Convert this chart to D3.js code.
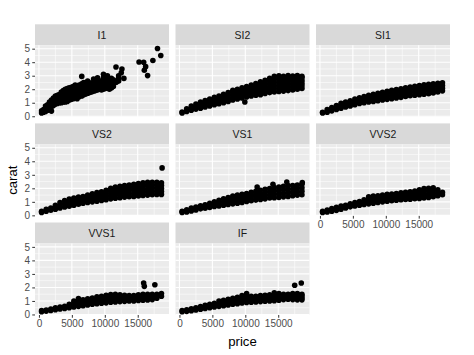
<!DOCTYPE html>
<html>
<head>
<meta charset="utf-8">
<script src="https://cdn.jsdelivr.net/npm/d3@7"></script>
<style>
body { margin: 0; background: #fff; }
text { font-family: "Liberation Sans", Arial, sans-serif; }
</style>
</head>
<body>
<script>
// facet order (clarity)
const clarities = ['I1', 'SI2', 'SI1', 'VS2', 'VS1', 'VVS2', 'VVS1', 'IF'];

// each row: price, then the carat values seen at that price
const rowsI1 = [
  [400,0.25,0.4],[700,0.3,0.5],[1000,0.35,0.55,0.75],[1300,0.45,0.65,0.85],[1600,0.5,0.7,0.9,1.05],
  [1900,0.38,0.7,0.9,1.1,1.2],[2200,0.8,1.0,1.2,1.35],[2500,0.9,1.1,1.3,1.5],[2800,0.95,1.15,1.35,1.55],
  [3100,1.0,1.2,1.4,1.6],[3400,1.0,1.2,1.4,1.6,1.8],[3700,1.05,1.25,1.45,1.65,1.9],
  [4000,1.05,1.3,1.5,1.75,2.0],[4300,1.1,1.35,1.6,1.8,2.05],[4600,1.2,1.4,1.65,1.9,2.1],
  [4900,1.25,1.5,1.7,1.95,2.15],[5200,1.3,1.55,1.8,2.0,2.2],[5500,1.4,1.6,1.85,2.05,2.3],
  [5800,1.3,1.55,1.8,2.0,2.2],[6100,1.45,1.7,1.9,2.1,2.3],[6500,1.5,1.75,2.0,2.2,2.4,2.95],
  [6800,1.6,1.85,2.05,2.25,2.5],[7100,1.65,1.9,2.1,2.3],[7400,1.7,1.95,2.15,2.35,2.6],
  [7700,1.75,2.0,2.2,2.45],[8000,1.8,2.05,2.25,2.45],[8300,1.85,2.1,2.3,2.5,2.75],
  [8600,1.9,2.1,2.3,2.5],[8900,1.95,2.15,2.35,2.6,2.85],[9200,2.0,2.2,2.4,2.6],[9500,1.95,2.2,2.4,2.6],
  [9800,2.0,2.25,2.45,2.65,2.85,3.1],[10100,2.05,2.3,2.5,2.7,2.95],[10400,2.1,2.3,2.5,2.7,3.0],
  [10700,2.0,2.25,2.5,2.7],[11000,2.1,2.3,2.55,2.8],[11300,2.2,2.45,2.7],[11700,2.5,3.65],
  [12100,2.6,2.8,3.0],[12500,3.22],[12600,3.5],[12900,2.8],
  [15200,4.01],[15900,4.0],[16000,3.4],[16200,3.67],[16500,3.01],[17300,4.13],[18000,5.01],[18500,4.5]
];
const rowsSI2 = [
  [400,0.25,0.32],[1100,0.35,0.55],[1800,0.45,0.62,0.75],[2500,0.53,0.72,0.9],[3200,0.6,0.82,1.05],
  [3900,0.68,0.9,1.05,1.17],[4600,0.76,0.95,1.12,1.28],[5300,0.85,1.03,1.22,1.4],
  [6000,0.93,1.12,1.31,1.5],[6700,1.0,1.2,1.4,1.62],[7400,1.1,1.32,1.54,1.76],
  [8100,1.2,1.4,1.6,1.78,1.92],[8800,1.28,1.46,1.64,1.82,2.0],[9500,1.35,1.54,1.73,1.92,2.1],
  [9930,1.05],[10200,1.43,1.62,1.81,2.0,2.2],[10900,1.5,1.7,1.9,2.1,2.3],
  [11600,1.55,1.77,1.98,2.2,2.42],[12300,1.6,1.8,2.0,2.2,2.38,2.55],
  [13000,1.68,1.88,2.08,2.28,2.47,2.66],[13700,1.75,1.96,2.17,2.38,2.59,2.8],
  [14400,1.8,2.03,2.26,2.49,2.72,2.95],[15100,1.83,2.06,2.3,2.53,2.77,3.0],
  [15800,1.86,2.08,2.3,2.52,2.74,2.95],[16500,1.9,2.12,2.35,2.57,2.8,3.02],
  [17200,1.95,2.16,2.37,2.58,2.78,2.98],[17900,2.0,2.2,2.4,2.6,2.8,3.02],
  [18600,2.05,2.25,2.45,2.65,2.85,2.95]
];
const rowsSI1 = [
  [400,0.25,0.3],[1100,0.3,0.5],[1800,0.4,0.52,0.65],[2500,0.5,0.65,0.8],[3200,0.6,0.78,0.95],
  [3900,0.68,0.87,1.05],[4600,0.76,0.96,1.15],[5300,0.86,1.06,1.27],[6000,0.95,1.16,1.37],
  [6700,1.0,1.23,1.46],[7400,1.05,1.22,1.38,1.55],[8100,1.1,1.28,1.45,1.63],
  [8800,1.15,1.33,1.52,1.7],[9500,1.2,1.39,1.58,1.77],[10200,1.25,1.45,1.65,1.85],
  [10900,1.3,1.5,1.7,1.92],[11600,1.35,1.56,1.77,1.97],[12300,1.4,1.61,1.82,2.03],
  [13000,1.47,1.68,1.89,2.1],[13700,1.52,1.74,1.95,2.17],[14400,1.55,1.77,2.0,2.22],
  [15100,1.6,1.82,2.05,2.27],[15800,1.63,1.86,2.09,2.32],[16500,1.67,1.9,2.13,2.36],
  [17200,1.72,1.95,2.18,2.4],[17900,1.8,2.02,2.23,2.44],[18600,1.88,2.08,2.28,2.47]
];
const rowsVS2 = [
  [400,0.22,0.3],[1100,0.3,0.45],[1800,0.38,0.55],[2500,0.45,0.6,0.75],[3200,0.55,0.75,0.95],
  [3900,0.62,0.86,1.1],[4600,0.68,0.86,1.03,1.2],[5300,0.75,0.93,1.1,1.28],[6000,0.83,1.0,1.18,1.35],
  [6700,0.9,1.07,1.23,1.4],[7400,0.95,1.13,1.32,1.5],[8100,1.0,1.2,1.4,1.6],
  [8800,1.05,1.26,1.47,1.68],[9500,1.1,1.32,1.53,1.75],[10200,1.15,1.38,1.62,1.85],
  [10900,1.22,1.42,1.61,1.8,2.0],[11600,1.27,1.48,1.68,1.89,2.1],[12300,1.3,1.51,1.72,1.93,2.15],
  [13000,1.35,1.56,1.78,1.99,2.2],[13700,1.38,1.6,1.82,2.03,2.25],[14400,1.4,1.62,1.85,2.07,2.3],
  [15100,1.43,1.66,1.89,2.12,2.35],[15800,1.47,1.7,1.93,2.17,2.4],[16500,1.5,1.74,1.97,2.21,2.45],
  [17200,1.53,1.76,2.0,2.22,2.45],[17900,1.55,1.78,2.0,2.23,2.45],[18600,1.55,1.77,1.98,2.2,2.4],
  [18700,3.51]
];
const rowsVS1 = [
  [400,0.22,0.3],[1100,0.25,0.42],[1800,0.32,0.45,0.55],[2500,0.4,0.52,0.62],[3200,0.48,0.6,0.7],
  [3900,0.53,0.66,0.78],[4600,0.58,0.74,0.9],[5300,0.65,0.82,1.0],[6000,0.7,0.92,1.12],
  [6700,0.75,0.98,1.22],[7400,0.8,1.0,1.16,1.32],[8100,0.85,1.04,1.23,1.42],[8800,0.9,1.1,1.3,1.5],
  [9500,0.95,1.15,1.35,1.55],[10200,1.02,1.22,1.42,1.62],[10900,1.08,1.28,1.49,1.7],
  [11600,1.13,1.35,1.56,1.78],[11800,2.1],[12300,1.17,1.4,1.62,1.85],[13000,1.22,1.45,1.68,1.92],
  [13700,1.28,1.5,1.74,1.98],[14200,2.3],[14400,1.3,1.55,1.8,2.05],[15100,1.33,1.59,1.84,2.1],
  [15800,1.37,1.63,1.89,2.15],[16300,2.47],[16500,1.4,1.67,1.93,2.2],[17200,1.45,1.7,1.95,2.2],
  [17900,1.5,1.75,2.0,2.25],[18600,1.53,1.79,2.04,2.3],[18650,2.42]
];
const rowsVVS2 = [
  [400,0.22,0.3],[1100,0.25,0.4],[1800,0.3,0.4,0.5],[2500,0.37,0.48,0.6],[3200,0.45,0.56,0.68],
  [3900,0.55,0.65,0.75],[4600,0.63,0.74,0.85],[5300,0.7,0.82,0.95],[6000,0.75,0.88,1.02],
  [6700,0.8,0.98,1.15],[7400,0.85,1.03,1.2,1.38],[8100,0.9,1.07,1.25,1.42],[8800,0.95,1.12,1.28,1.45],
  [9500,1.0,1.17,1.33,1.5],[10200,1.05,1.22,1.38,1.55],[10900,1.08,1.25,1.42,1.58],
  [11600,1.12,1.29,1.45,1.62],[12300,1.15,1.32,1.49,1.66],[13000,1.18,1.35,1.53,1.7],
  [13700,1.2,1.38,1.57,1.75],[14400,1.23,1.42,1.61,1.8],[15100,1.25,1.47,1.68,1.9],
  [15800,1.28,1.51,1.75,1.98],[16500,1.32,1.55,1.78,2.0],[17200,1.38,1.6,1.82,2.03],
  [17900,1.45,1.68,1.9],[18600,1.53,1.7]
];
const rowsVVS1 = [
  [400,0.2,0.28],[1100,0.25,0.33],[1800,0.3,0.4],[2500,0.35,0.5],[3200,0.4,0.55],[3900,0.45,0.6],
  [4600,0.5,0.62,0.75],[5300,0.55,0.7,0.85,1.0],[6000,0.6,0.75,0.9,1.05,1.18],[6700,0.65,0.8,0.95,1.08],
  [7400,0.7,0.85,1.0,1.15],[8100,0.75,0.9,1.06,1.22],[8800,0.8,0.97,1.13,1.3],[9500,0.83,1.0,1.18,1.35],
  [10200,0.86,1.04,1.23,1.42],[10900,0.9,1.09,1.28,1.48],[11600,0.92,1.11,1.3,1.5],
  [12300,0.95,1.12,1.28,1.45],[13000,0.97,1.12,1.27,1.42],[13700,1.0,1.13,1.27,1.4],
  [14400,1.0,1.13,1.27,1.4],[15100,1.03,1.17,1.31,1.45],[15800,1.05,1.2,1.35,1.5],
  [15900,2.33],[16000,2.08],[16500,1.07,1.21,1.36,1.5],[17200,1.1,1.23,1.37,1.5],[17600,2.2],
  [17900,1.2,1.35,1.5],[18600,1.35,1.55]
];
const rowsIF = [
  [400,0.2,0.28],[1100,0.23,0.35],[1800,0.28,0.42],[2500,0.33,0.42,0.5],[3200,0.38,0.48,0.58],
  [3900,0.45,0.56,0.68],[4600,0.5,0.62,0.75],[5300,0.55,0.68,0.82],[6000,0.6,0.8,1.0],
  [6700,0.65,0.85,1.05],[7400,0.7,0.85,1.0,1.12],[8100,0.75,0.9,1.05,1.2],[8800,0.8,0.96,1.12,1.27],
  [9500,0.85,1.03,1.22,1.4],[10200,0.88,1.05,1.22,1.38,1.55],[10900,0.9,1.05,1.2,1.35],
  [11600,0.93,1.07,1.21,1.35],[12300,0.95,1.1,1.25,1.4],[13000,0.98,1.13,1.28,1.42],
  [13700,1.0,1.15,1.31,1.46],[14400,1.02,1.2,1.4,1.6],[15100,1.05,1.22,1.38,1.55],
  [15800,1.1,1.23,1.37,1.5],[16500,1.12,1.25,1.37,1.5],[17200,1.1,1.25,1.4,1.55],[17500,2.16],
  [17900,1.08,1.24,1.4,1.55],[18500,2.33],[18600,1.08,1.22,1.36,1.5]
];

// axis breaks
const priceTicks = [0, 5000, 10000, 15000];
const priceMinor = [2500, 7500, 12500, 17500];
const caratTicks = [0, 1, 2, 3, 4, 5];
const caratMinor = [0.5, 1.5, 2.5, 3.5, 4.5];

const rowsByClarity = {
  I1: rowsI1, SI2: rowsSI2, SI1: rowsSI1, VS2: rowsVS2,
  VS1: rowsVS1, VVS2: rowsVVS2, VVS1: rowsVVS1, IF: rowsIF
};

// layout
const width = 474, height = 355;
const colLeft = [35, 175.5, 316], panelW = 134;
const rowTop = [24.3, 123.4, 222.5], stripH = 21, panelH = 71.5;
const nCols = 3;

const svg = d3.select('body').append('svg')
  .attr('width', width)
  .attr('height', height);

svg.append('rect').attr('width', width).attr('height', height).attr('fill', '#fff');

clarities.forEach((cl, i) => {
  const c = i % nCols, r = Math.floor(i / nCols);
  const left = colLeft[c], top = rowTop[r] + stripH, bottom = top + panelH;

  const x = d3.scaleLinear().domain([-599, 19748]).range([left, left + panelW]);
  const y = d3.scaleLinear().domain([-0.04, 5.25]).range([bottom, top]);

  const g = svg.append('g');

  // strip
  g.append('rect')
    .attr('x', left).attr('y', rowTop[r])
    .attr('width', panelW).attr('height', stripH)
    .attr('fill', '#D9D9D9');
  g.append('text')
    .attr('x', left + panelW / 2).attr('y', rowTop[r] + stripH / 2 + 3.8)
    .attr('text-anchor', 'middle')
    .attr('font-size', 10.5)
    .attr('fill', '#1A1A1A')
    .text(cl);

  // panel background + grid
  g.append('rect')
    .attr('x', left).attr('y', top)
    .attr('width', panelW).attr('height', panelH)
    .attr('fill', '#EBEBEB');

  g.selectAll('.hmin').data(caratMinor).enter().append('line')
    .attr('x1', left).attr('x2', left + panelW)
    .attr('y1', d => y(d)).attr('y2', d => y(d))
    .attr('stroke', '#fff').attr('stroke-width', 0.55);
  g.selectAll('.vmin').data(priceMinor).enter().append('line')
    .attr('y1', top).attr('y2', bottom)
    .attr('x1', d => x(d)).attr('x2', d => x(d))
    .attr('stroke', '#fff').attr('stroke-width', 0.55);
  g.selectAll('.hmaj').data(caratTicks).enter().append('line')
    .attr('x1', left).attr('x2', left + panelW)
    .attr('y1', d => y(d)).attr('y2', d => y(d))
    .attr('stroke', '#fff').attr('stroke-width', 1.1);
  g.selectAll('.vmaj').data(priceTicks).enter().append('line')
    .attr('y1', top).attr('y2', bottom)
    .attr('x1', d => x(d)).attr('x2', d => x(d))
    .attr('stroke', '#fff').attr('stroke-width', 1.1);

  // points
  const pts = [];
  rowsByClarity[cl].forEach(row => {
    row.slice(1).forEach(ct => pts.push({price: row[0], carat: ct}));
  });
  g.selectAll('circle').data(pts).enter().append('circle')
    .attr('cx', d => x(d.price))
    .attr('cy', d => y(d.carat))
    .attr('r', 2.8)
    .attr('fill', '#000');

  // y axis on first column
  if (c === 0) {
    const ya = g.append('g')
      .attr('transform', `translate(${left},0)`)
      .call(d3.axisLeft(y).tickValues(caratTicks).tickFormat(d3.format('d')).tickSize(2.75).tickPadding(2.2));
    styleAxis(ya);
  }

  // x axis at bottom of each column
  const lastInCol = i + nCols >= clarities.length;
  if (lastInCol) {
    const xa = g.append('g')
      .attr('transform', `translate(0,${bottom})`)
      .call(d3.axisBottom(x).tickValues(priceTicks).tickFormat(d3.format('d')).tickSize(2.75).tickPadding(2.2));
    styleAxis(xa);
  }
});

function styleAxis(a) {
  a.select('.domain').remove();
  a.selectAll('.tick line').attr('stroke', '#333333').attr('stroke-width', 1);
  a.selectAll('.tick text')
    .attr('fill', '#4D4D4D')
    .attr('font-size', 10)
    .attr('font-family', '"Liberation Sans", Arial, sans-serif');
}

// axis titles
svg.append('text')
  .attr('x', (colLeft[0] + colLeft[2] + panelW) / 2)
  .attr('y', 345.5)
  .attr('text-anchor', 'middle')
  .attr('font-size', 13.2)
  .attr('fill', '#000')
  .text('price');

svg.append('text')
  .attr('transform', `translate(17,${(rowTop[0] + stripH + rowTop[2] + stripH + panelH) / 2}) rotate(-90)`)
  .attr('text-anchor', 'middle')
  .attr('font-size', 13.2)
  .attr('fill', '#000')
  .text('carat');
</script>
</body>
</html>
